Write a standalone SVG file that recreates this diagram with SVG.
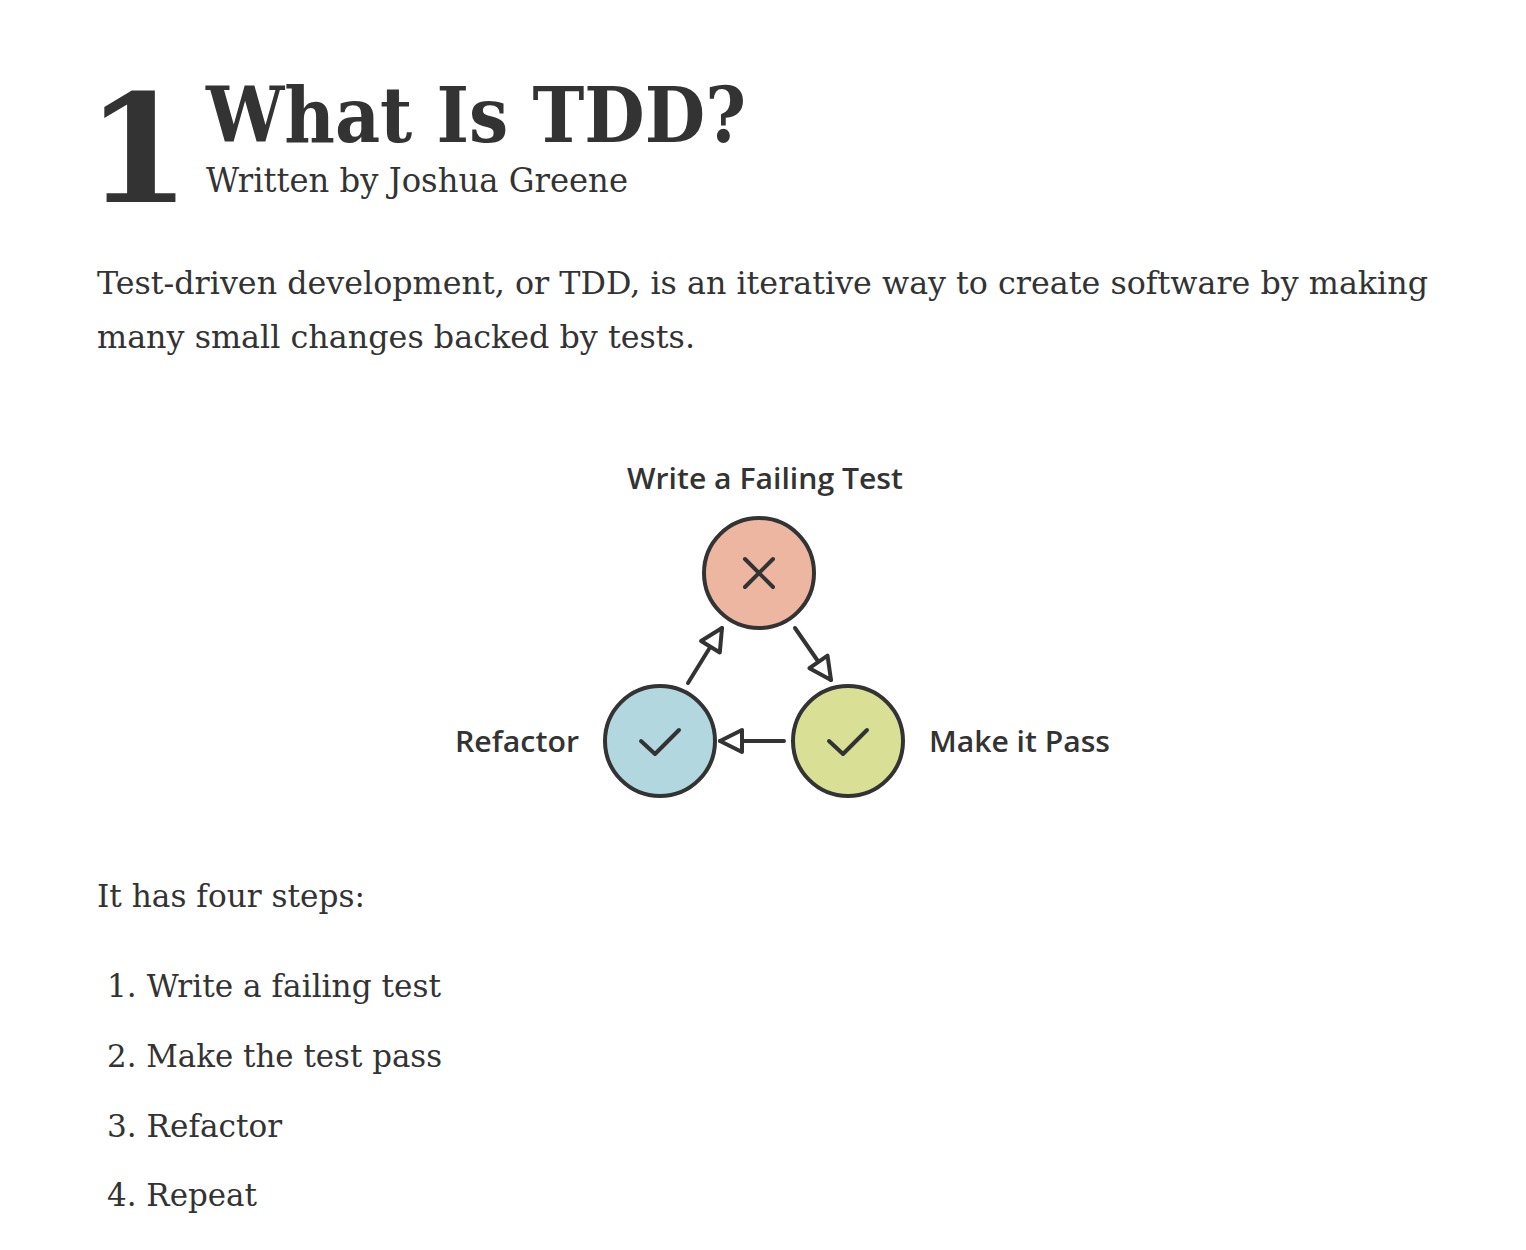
<svg xmlns="http://www.w3.org/2000/svg" width="1526" height="1250" viewBox="0 0 1526 1250">
<style>
.serif{font-family:"DejaVu Serif","Liberation Serif",serif;fill:#333}
.body{font-size:32px}
.lbl{font-family:"Open Sans","Noto Sans",sans-serif;font-size:29px;font-weight:600;fill:#333}
.node{stroke:#333;stroke-width:4}
.mark{fill:none;stroke:#333;stroke-width:4;stroke-linecap:round;stroke-linejoin:round}
.edge{fill:none;stroke:#333;stroke-width:4;stroke-linecap:round}
</style>
<defs>
<marker id="tri" viewBox="0 0 28 28" refX="25" refY="14" markerWidth="28" markerHeight="28" orient="auto" markerUnits="userSpaceOnUse">
<path d="M3,3 L25,14 L3,25 Z" fill="#fff" stroke="#333" stroke-width="4" stroke-linejoin="round"/>
</marker>
</defs>
<rect width="1526" height="1250" fill="#fff"/>
<text class="serif" x="86" y="202" font-size="150" font-weight="bold">1</text>
<text class="serif" x="206" y="142" font-size="76" font-weight="bold" textLength="540" lengthAdjust="spacingAndGlyphs">What Is TDD?</text>
<text class="serif" x="206" y="192" font-size="33" textLength="422" lengthAdjust="spacingAndGlyphs">Written by Joshua Greene</text>
<text class="serif body" x="97" y="294" textLength="1331" lengthAdjust="spacingAndGlyphs">Test-driven development, or TDD, is an iterative way to create software by making</text>
<text class="serif body" x="97" y="348" textLength="598" lengthAdjust="spacingAndGlyphs">many small changes backed by tests.</text>
<g id="connectors">
<line class="edge" x1="795" y1="628" x2="831" y2="680" marker-end="url(#tri)"/>
<line class="edge" x1="784" y1="741" x2="720" y2="741" marker-end="url(#tri)"/>
<line class="edge" x1="688" y1="683" x2="722" y2="628" marker-end="url(#tri)"/>
</g>
<g id="fail">
<circle class="node" cx="759" cy="573" r="55" fill="#edb6a0"/>
<path class="mark" d="M745,559 L773,587 M773,559 L745,587"/>
<text class="lbl" x="627" y="489" textLength="276" lengthAdjust="spacingAndGlyphs">Write a Failing Test</text>
</g>
<g id="refactor">
<circle class="node" cx="660" cy="741" r="55" fill="#b2d7df"/>
<path class="mark" d="M641,741 L655,754 L679,730"/>
<text class="lbl" x="455" y="752" textLength="124" lengthAdjust="spacingAndGlyphs">Refactor</text>
</g>
<g id="pass">
<circle class="node" cx="848" cy="741" r="55" fill="#d9e096"/>
<path class="mark" d="M829,741 L843,754 L867,730"/>
<text class="lbl" x="929" y="752" textLength="181" lengthAdjust="spacingAndGlyphs">Make it Pass</text>
</g>
<text class="serif body" x="97" y="907" textLength="268" lengthAdjust="spacingAndGlyphs">It has four steps:</text>
<text class="serif body" x="107" y="997" textLength="334" lengthAdjust="spacingAndGlyphs">1. Write a failing test</text>
<text class="serif body" x="107" y="1067" textLength="335" lengthAdjust="spacingAndGlyphs">2. Make the test pass</text>
<text class="serif body" x="107" y="1137" textLength="175" lengthAdjust="spacingAndGlyphs">3. Refactor</text>
<text class="serif body" x="107" y="1206" textLength="150" lengthAdjust="spacingAndGlyphs">4. Repeat</text>
</svg>
